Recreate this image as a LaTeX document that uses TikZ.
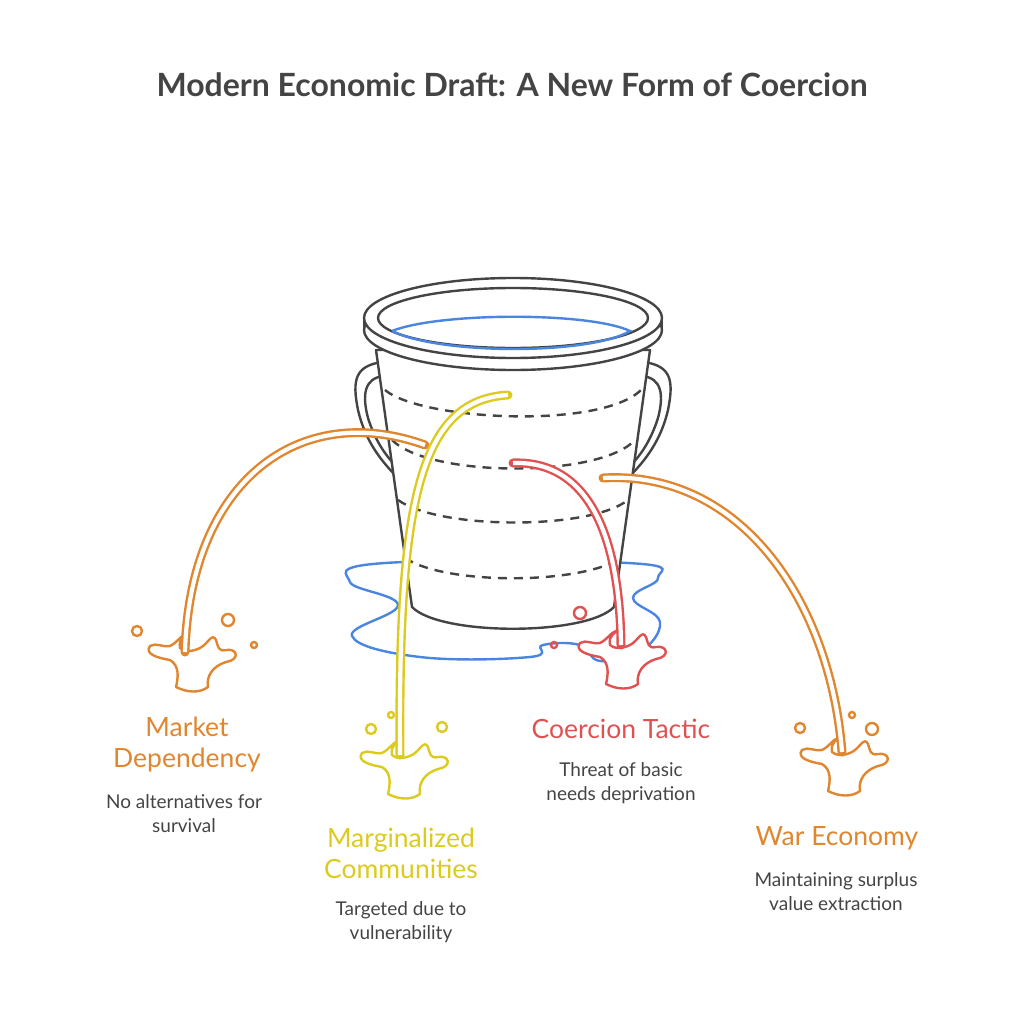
\documentclass[tikz,border=0pt]{standalone}
\usepackage{fontspec}
\setmainfont{Lato}
\definecolor{ora}{HTML}{E0862F}
\definecolor{yel}{HTML}{DCCB1F}
\definecolor{redc}{HTML}{E05252}
\definecolor{blu}{HTML}{4A86E0}
\definecolor{dk}{HTML}{444444}
\tikzset{
 bk/.style={draw=dk,line width=2.4pt,line join=round},
 dsh/.style={draw=dk,line width=2.4pt,dash pattern=on 9pt off 7pt},
 lab/.style={font=\fontsize{26.5}{31}\selectfont,align=center},
 desc/.style={font=\fontsize{19}{24}\selectfont,align=center,text=dk},
 pics/splash/.style={code={
  \draw[line width=2.4pt,#1,fill=white,line join=round]
   (-38,-12) .. controls (-44,-4) and (-30,0) .. (-18,2)
   .. controls (-8,8) and (-10,20) .. (-12,29)
   .. controls (0,35) and (12,35) .. (20,29)
   .. controls (18,18) and (25,8) .. (38,4)
   .. controls (52,2) and (50,-10) .. (38,-8)
   .. controls (30,-6) and (30,-12) .. (28,-18)
   .. controls (24,-26) and (20,-14) .. (12,-10)
   .. controls (4,-6) and (-4,-6) .. (-8,-10)
   .. controls (-10,-20) and (-2,-22) .. (-2,-24)
   .. controls (-8,-22) and (-10,-16) .. (-18,-12)
   .. controls (-24,-10) and (-32,-16) .. (-38,-12) -- cycle;}},
 stream/.style={line width=9pt,draw=#1,line cap=round,
   postaction={draw=white,line width=4.2pt,line cap=butt}}
}
\begin{document}
\begin{tikzpicture}[x=1pt,y=-1pt]
\useasboundingbox (0,0) rectangle (1024,1008);
\node[font=\fontsize{32}{36}\selectfont\bfseries,text=dk] (title) at (512,85) {Modern Economic Draft: A New Form of Coercion};
% puddle
\draw[blu,line width=2.4pt] plot[smooth cycle,tension=0.7] coordinates{(385,563)(350,582)(398,605)(352,636)(420,657)(530,657)(543,645)(580,645)(600,661)(640,652)(660,622)(633,598)(658,578)(628,563)};
% handles
\draw[bk] (382,362) .. controls (355,366) and (352,380) .. (358,410) .. controls (365,440) and (380,460) .. (398,478);
\draw[bk] (384,376) .. controls (364,378) and (362,395) .. (368,418) .. controls (375,440) and (385,455) .. (396,466);
\draw[bk] (644,362) .. controls (671,366) and (674,380) .. (668,410) .. controls (661,440) and (646,460) .. (628,478);
\draw[bk] (642,376) .. controls (662,378) and (664,395) .. (658,418) .. controls (651,440) and (641,455) .. (630,466);
% body
\draw[bk,fill=white] (376,350) -- (412,607) .. controls (440,636) and (586,636) .. (614,607) -- (650,350) -- cycle;
\draw[dsh] (385,390) .. controls (420,420) and (600,430) .. (641,390);
\draw[dsh] (392,440) .. controls (430,478) and (600,478) .. (635,440);
\draw[dsh] (398,500) .. controls (440,530) and (590,530) .. (628,500);
\draw[dsh] (405,558) .. controls (445,585) and (580,585) .. (621,558);
% rim
\draw[bk,fill=white] (513,330) ellipse[x radius=149,y radius=40];
\draw[bk,fill=white] (513,318) ellipse[x radius=149,y radius=40];
\draw[bk] (364,318) -- (364,330) (662,318) -- (662,330);
\draw[bk] (513,318) ellipse[x radius=135,y radius=30];
\draw[blu,line width=2.4pt] (392,331) .. controls (440,312) and (590,312) .. (630,331) .. controls (590,355) and (440,355) .. (392,331);
% streams and splashes
\pic at (188,658) {splash=ora};
\pic at (400,765) {splash=yel};
\pic at (618,655) {splash=redc};
\pic at (840,762) {splash=ora};
\draw[stream=ora] (425,445) .. controls (300,400) and (190,480) .. (185,652);
\draw[stream=yel] (508,395) .. controls (420,400) and (398,500) .. (400,755);
\draw[stream=redc] (513,463) .. controls (600,460) and (620,560) .. (621,645);
\draw[stream=ora] (603,478) .. controls (740,470) and (830,600) .. (842,752);
% droplets
\begin{scope}[line width=2.4pt]
\draw[ora] (137,631) circle(5) (228,620) circle(6) (254,645) circle(3);
\draw[yel] (371,729) circle(5) (391,715) circle(3) (442,727) circle(5);
\draw[redc] (580,613) circle(6) (554,645) circle(3);
\draw[ora] (800,728) circle(5) (852,715) circle(3) (872,729) circle(6);
\end{scope}
% labels
\node[lab,text=ora] (l1) at (187,745) {Market\\Dependency};
\node[desc] (d1) at (184,814) {No alternatives for\\survival};
\node[lab,text=yel] (l2) at (401,853) {Marginalized\\Communities};
\node[desc] (d2) at (401,922) {Targeted due to\\vulnerability};
\node[lab,text=redc] (l3) at (621,729) {Coercion Tactic};
\node[desc] (d3) at (621,783) {Threat of basic\\needs deprivation};
\node[lab,text=ora] (l4) at (837,838) {War Economy};
\node[desc] (d4) at (836,892) {Maintaining surplus\\value extraction};
\end{tikzpicture}
\end{document}
